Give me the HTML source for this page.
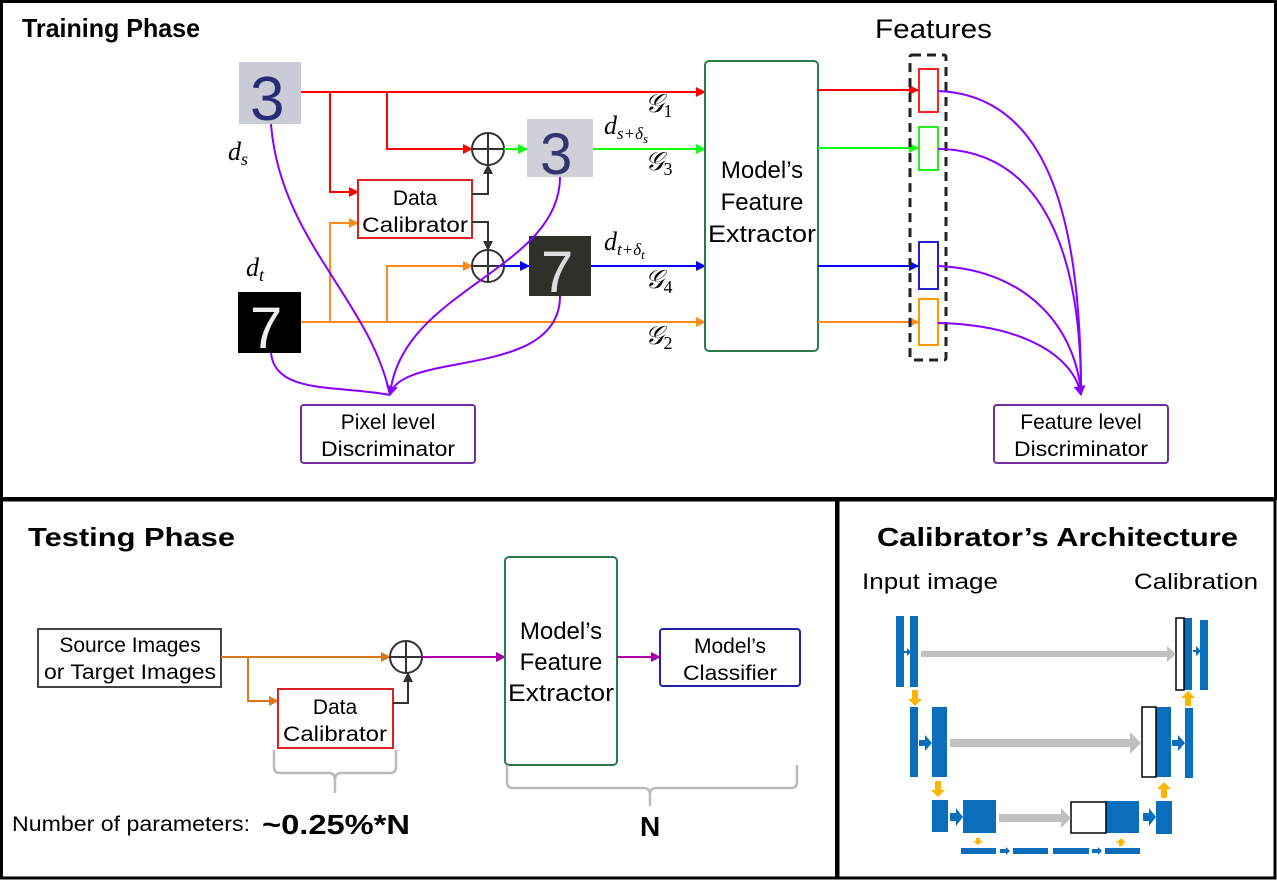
<!DOCTYPE html>
<html><head><meta charset="utf-8"><style>
html,body{margin:0;padding:0;background:#fff}
svg{display:block}
text{font-family:"Liberation Sans",sans-serif}
.it{font-family:"Liberation Serif",serif;font-style:italic}
</style></head><body>
<svg width="1277" height="881" viewBox="0 0 1277 881" xmlns="http://www.w3.org/2000/svg">
<defs>
<marker id="ar" markerWidth="10" markerHeight="10" refX="9" refY="5" orient="auto" markerUnits="userSpaceOnUse"><path d="M0,0 L10,5 L0,10z" fill="#f00"/></marker>
<marker id="ao" markerWidth="10" markerHeight="10" refX="9" refY="5" orient="auto" markerUnits="userSpaceOnUse"><path d="M0,0 L10,5 L0,10z" fill="#ff8c1a"/></marker>
<marker id="ao2" markerWidth="10" markerHeight="10" refX="9" refY="5" orient="auto" markerUnits="userSpaceOnUse"><path d="M0,0 L10,5 L0,10z" fill="#d9771a"/></marker>
<marker id="ag" markerWidth="10" markerHeight="10" refX="9" refY="5" orient="auto" markerUnits="userSpaceOnUse"><path d="M0,0 L10,5 L0,10z" fill="#1f1"/></marker>
<marker id="ab" markerWidth="10" markerHeight="10" refX="9" refY="5" orient="auto" markerUnits="userSpaceOnUse"><path d="M0,0 L10,5 L0,10z" fill="#00f"/></marker>
<marker id="ak" markerWidth="10" markerHeight="10" refX="9" refY="5" orient="auto" markerUnits="userSpaceOnUse"><path d="M0,0 L10,5 L0,10z" fill="#333"/></marker>
<marker id="ap" markerWidth="10" markerHeight="12" refX="9" refY="6" orient="auto" markerUnits="userSpaceOnUse"><path d="M0,0 L10,6 L0,12z" fill="#80f"/></marker>
<marker id="am" markerWidth="10" markerHeight="10" refX="9" refY="5" orient="auto" markerUnits="userSpaceOnUse"><path d="M0,0 L10,5 L0,10z" fill="#a0a"/></marker>
</defs>
<rect x="1.5" y="1.5" width="1274" height="497" fill="none" stroke="#000" stroke-width="3"/>
<rect x="1.5" y="500" width="835" height="378" fill="none" stroke="#000" stroke-width="3"/>
<rect x="838" y="500" width="437" height="378" fill="none" stroke="#000" stroke-width="3"/>

<text x="22" y="37" font-size="26" font-weight="bold" textLength="178" lengthAdjust="spacingAndGlyphs">Training Phase</text>
<text x="875" y="38" font-size="27" textLength="117" lengthAdjust="spacingAndGlyphs">Features</text>

<rect x="239" y="62" width="62" height="62" fill="#c9ccd6"/>
<text x="250" y="120" font-size="62" fill="#2a2a7a" font-family="Liberation Serif">3</text>
<rect x="238" y="292" width="63" height="61" fill="#000"/>
<text x="250" y="348" font-size="58" fill="#eee">7</text>
<rect x="527" y="119" width="66" height="58" fill="#cfd0d8"/>
<text x="540" y="174" font-size="58" fill="#34346e" font-family="Liberation Serif">3</text>
<rect x="529" y="236" width="62" height="60" fill="#2e302a"/>
<text x="541" y="292" font-size="58" fill="#ddd">7</text>

<g fill="none" stroke="#f00" stroke-width="2">
<path d="M301,92 H705" marker-end="url(#ar)"/>
<path d="M330,92 V192 H358" marker-end="url(#ar)"/>
<path d="M387,92 V149 H472" marker-end="url(#ar)"/>
</g>
<g fill="none" stroke="#ff8c1a" stroke-width="2">
<path d="M301,322 H705" marker-end="url(#ao)"/>
<path d="M330,322 V223 H358" marker-end="url(#ao)"/>
<path d="M387,322 V266 H472" marker-end="url(#ao)"/>
</g>
<rect x="358" y="180" width="114" height="58" fill="#fff" stroke="#d22" stroke-width="2"/>
<text x="415" y="205" font-size="21" text-anchor="middle">Data</text>
<text x="415" y="232" font-size="21" text-anchor="middle" textLength="106" lengthAdjust="spacingAndGlyphs">Calibrator</text>
<g fill="none" stroke="#333" stroke-width="2">
<path d="M472,194 H488 V165" marker-end="url(#ak)"/>
<path d="M472,222 H488 V250" marker-end="url(#ak)"/>
<circle cx="488" cy="149" r="16"/><path d="M472,149 H504 M488,133 V165"/>
<circle cx="488" cy="266" r="16"/><path d="M472,266 H504 M488,250 V282"/>
</g>
<path d="M504,149 H527" stroke="#1f1" stroke-width="2" marker-end="url(#ag)"/>
<path d="M593,149 H705" stroke="#1f1" stroke-width="2" marker-end="url(#ag)"/>
<path d="M504,266 H529" stroke="#00f" stroke-width="2" marker-end="url(#ab)"/>
<path d="M591,266 H705" stroke="#00f" stroke-width="2" marker-end="url(#ab)"/>

<text class="it" x="228" y="160" font-size="26">d<tspan font-size="18" dy="5">s</tspan></text>
<text class="it" x="246" y="276" font-size="26">d<tspan font-size="18" dy="5">t</tspan></text>
<text class="it" x="645" y="112" font-size="26">𝒢<tspan font-size="18" dy="5" font-style="normal">1</tspan></text>
<text class="it" x="604" y="134" font-size="26">d<tspan font-size="17" dy="5">s+δ</tspan><tspan font-size="13" dy="4">s</tspan></text>
<text class="it" x="645" y="170" font-size="26">𝒢<tspan font-size="18" dy="5" font-style="normal">3</tspan></text>
<text class="it" x="604" y="250" font-size="26">d<tspan font-size="17" dy="5">t+δ</tspan><tspan font-size="13" dy="4">t</tspan></text>
<text class="it" x="645" y="288" font-size="26">𝒢<tspan font-size="18" dy="5" font-style="normal">4</tspan></text>
<text class="it" x="645" y="344" font-size="26">𝒢<tspan font-size="18" dy="5" font-style="normal">2</tspan></text>

<rect x="705" y="61" width="113" height="290" rx="4" fill="#fff" stroke="#2b7a4b" stroke-width="2"/>
<text x="762" y="178" font-size="24" text-anchor="middle">Model’s</text>
<text x="762" y="210" font-size="24" text-anchor="middle">Feature</text>
<text x="762" y="242" font-size="24" text-anchor="middle" textLength="108" lengthAdjust="spacingAndGlyphs">Extractor</text>

<path d="M818,90 H918" stroke="#f00" stroke-width="2" marker-end="url(#ar)"/>
<path d="M818,148 H918" stroke="#1f1" stroke-width="2" marker-end="url(#ag)"/>
<path d="M818,266 H918" stroke="#00f" stroke-width="2" marker-end="url(#ab)"/>
<path d="M818,322 H918" stroke="#ff8c1a" stroke-width="2" marker-end="url(#ao)"/>
<rect x="910" y="55" width="36" height="305" rx="2" fill="none" stroke="#222" stroke-width="3" stroke-dasharray="9,6"/>
<rect x="919" y="69" width="19" height="43" fill="#fff" stroke="#f22" stroke-width="2"/>
<rect x="919" y="127" width="19" height="43" fill="#fff" stroke="#2e2" stroke-width="2"/>
<rect x="919" y="242" width="19" height="47" fill="#fff" stroke="#22c" stroke-width="2"/>
<rect x="919" y="299" width="19" height="46" fill="#fff" stroke="#f90" stroke-width="2"/>
<g fill="none" stroke="#80f" stroke-width="2">
<path d="M938,91 C1040,95 1081,200 1081,392"/>
<path d="M938,149 C1030,150 1081,230 1081,392"/>
<path d="M938,266 C1030,270 1075,330 1081,392"/>
<path d="M938,323 C1030,325 1075,360 1081,395" marker-end="url(#ap)"/>
</g>
<rect x="994" y="405" width="174" height="58" rx="3" fill="#fff" stroke="#7030a0" stroke-width="2"/>
<text x="1081" y="429" font-size="21" text-anchor="middle">Feature level</text>
<text x="1081" y="456" font-size="21" text-anchor="middle" textLength="134" lengthAdjust="spacingAndGlyphs">Discriminator</text>

<g fill="none" stroke="#80f" stroke-width="2">
<path d="M271,124 C280,240 370,300 390,395"/>
<path d="M271,353 C275,395 340,385 390,395"/>
<path d="M560,177 C560,270 400,290 390,395"/>
<path d="M560,296 C560,380 400,350 390,395" marker-end="url(#ap)"/>
</g>
<rect x="301" y="405" width="174" height="58" rx="3" fill="#fff" stroke="#7030a0" stroke-width="2"/>
<text x="388" y="429" font-size="21" text-anchor="middle">Pixel level</text>
<text x="388" y="456" font-size="21" text-anchor="middle" textLength="134" lengthAdjust="spacingAndGlyphs">Discriminator</text>

<text x="28" y="546" font-size="26" font-weight="bold" textLength="207" lengthAdjust="spacingAndGlyphs">Testing Phase</text>
<rect x="38" y="629" width="183" height="58" fill="#fff" stroke="#444" stroke-width="2"/>
<text x="130" y="652" font-size="21" text-anchor="middle">Source Images</text>
<text x="130" y="679" font-size="21" text-anchor="middle" textLength="172" lengthAdjust="spacingAndGlyphs">or Target Images</text>
<g fill="none" stroke="#d9771a" stroke-width="2">
<path d="M221,657 H390" marker-end="url(#ao2)"/>
<path d="M248,657 V701 H278" marker-end="url(#ao2)"/>
</g>
<rect x="278" y="689" width="115" height="59" fill="#fff" stroke="#d22" stroke-width="2"/>
<text x="335" y="714" font-size="21" text-anchor="middle">Data</text>
<text x="335" y="741" font-size="21" text-anchor="middle" textLength="104" lengthAdjust="spacingAndGlyphs">Calibrator</text>
<g fill="none" stroke="#333" stroke-width="2">
<path d="M393,703 H408 V673" marker-end="url(#ak)"/>
<circle cx="406" cy="657" r="16"/><path d="M390,657 H422 M406,641 V673"/>
</g>
<path d="M422,657 H505" stroke="#a0a" stroke-width="2" marker-end="url(#am)"/>
<rect x="505" y="557" width="112" height="208" rx="4" fill="#fff" stroke="#2b7a4b" stroke-width="2"/>
<text x="561" y="639" font-size="24" text-anchor="middle">Model’s</text>
<text x="561" y="670" font-size="24" text-anchor="middle">Feature</text>
<text x="561" y="701" font-size="24" text-anchor="middle" textLength="106" lengthAdjust="spacingAndGlyphs">Extractor</text>
<path d="M617,657 H660" stroke="#a0a" stroke-width="2" marker-end="url(#am)"/>
<rect x="660" y="629" width="140" height="57" rx="3" fill="#fff" stroke="#22a" stroke-width="2"/>
<text x="730" y="653" font-size="21" text-anchor="middle">Model’s</text>
<text x="730" y="680" font-size="21" text-anchor="middle" textLength="94" lengthAdjust="spacingAndGlyphs">Classifier</text>
<g fill="none" stroke="#bbb" stroke-width="2.5">
<path d="M274,750 V767 Q274,773 280,773 H329 Q335,773 335,780 V793 M335,780 Q335,773 341,773 H390 Q396,773 396,767 V750"/>
<path d="M507,765 V782 Q507,788 513,788 H644 Q650,788 650,795 V806 M650,795 Q650,788 656,788 H791 Q797,788 797,782 V765"/>
</g>
<text x="12" y="831" font-size="21" textLength="238" lengthAdjust="spacingAndGlyphs">Number of parameters:</text>
<text x="262" y="834" font-size="28" font-weight="bold" textLength="148" lengthAdjust="spacingAndGlyphs">~0.25%*N</text>
<text x="640" y="836" font-size="28" font-weight="bold">N</text>

<text x="877" y="546" font-size="26" font-weight="bold" textLength="361" lengthAdjust="spacingAndGlyphs">Calibrator’s Architecture</text>
<text x="862" y="589" font-size="22" textLength="136" lengthAdjust="spacingAndGlyphs">Input image</text>
<text x="1134" y="589" font-size="22" textLength="124" lengthAdjust="spacingAndGlyphs">Calibration</text>
<g fill="#0a6ebd">
<rect x="896" y="616" width="8" height="71"/><rect x="910" y="616" width="8" height="71"/>
<rect x="1184" y="618" width="8" height="72"/><rect x="1200" y="620" width="8" height="70"/>
<rect x="910" y="707" width="8" height="70"/><rect x="932" y="707" width="15" height="70"/>
<rect x="1156" y="707" width="15" height="70"/><rect x="1185" y="708" width="8" height="70"/>
<rect x="932" y="800" width="16" height="32"/><rect x="963" y="800" width="33" height="33"/>
<rect x="1106" y="801" width="33" height="32"/><rect x="1156" y="801" width="16" height="33"/>
<rect x="961" y="848" width="35" height="6"/><rect x="1013" y="848" width="35" height="6"/>
<rect x="1053" y="848" width="36" height="6"/><rect x="1105" y="848" width="35" height="6"/>
<path d="M904,651 h3 v-3 l4,4 -4,4 v-3 h-3z"/>
<path d="M919,740 h6 v-5 l7,8 -7,8 v-5 h-6z"/>
<path d="M1172,740 h6 v-5 l7,8 -7,8 v-5 h-6z"/>
<path d="M1193,650 h3 v-4 l5,5 -5,5 v-4 h-3z"/>
<path d="M950,813 h6 v-5 l7,9 -7,9 v-5 h-6z"/>
<path d="M1143,813 h6 v-5 l7,9 -7,9 v-5 h-6z"/>
<path d="M1000,849 h6 v-2 l4,4 -4,4 v-2 h-6z"/>
<path d="M1092,849 h6 v-2 l4,4 -4,4 v-2 h-6z"/>
</g>
<rect x="1176" y="618" width="8" height="72" fill="#fff" stroke="#000" stroke-width="1.5"/>
<rect x="1142" y="707" width="14" height="70" fill="#fff" stroke="#000" stroke-width="1.5"/>
<rect x="1071" y="802" width="35" height="31" fill="#fff" stroke="#000" stroke-width="1.5"/>
<g fill="#c0c0c0">
<path d="M921,651 h246 v-5 l9,8 -9,8 v-5 h-246z"/>
<path d="M950,739 h180 v-7 l11,11 -11,11 v-7 h-180z"/>
<path d="M999,814 h62 v-6 l10,10 -10,10 v-6 h-62z"/>
</g>
<g fill="#ffb400">
<path d="M912,690 h6 v9 h4 l-7,7 -7,-7 h4z"/>
<path d="M935,781 h6 v9 h4 l-7,7 -7,-7 h4z"/>
<path d="M976,838 h4 v3 h3 l-5,4 -5,-4 h3z"/>
<path d="M1185,706 h6 v-8 h4 l-7,-7 -7,7 h4z"/>
<path d="M1161,798 h6 v-9 h4 l-7,-7 -7,7 h4z"/>
<path d="M1119,846 h4 v-3 h3 l-5,-5 -5,5 h3z"/>
</g>
</svg>
</body></html>
